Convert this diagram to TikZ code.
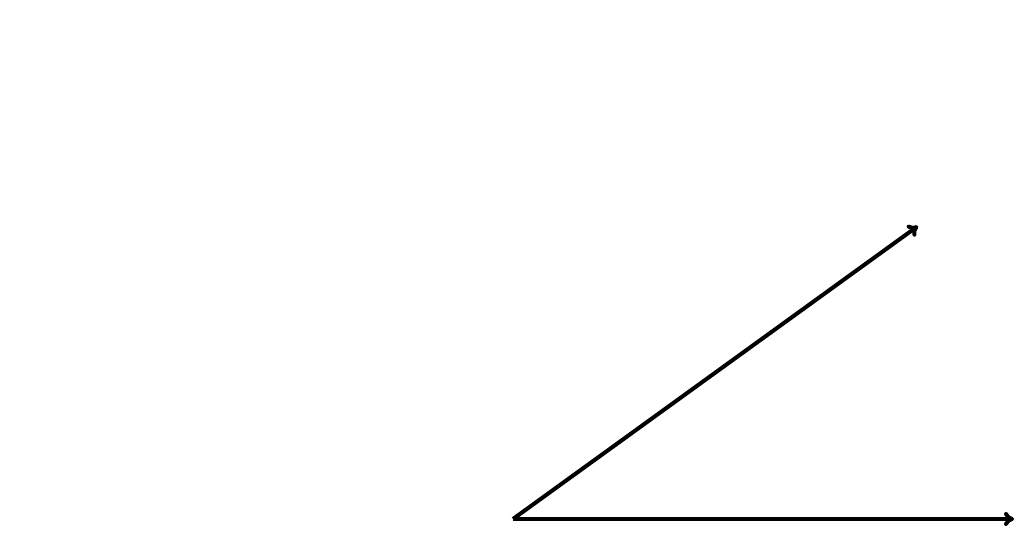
\documentclass[tikz,border=0pt]{standalone}
\usetikzlibrary{arrows.meta}
\begin{document}
\begin{tikzpicture}[x=0.5pt,y=0.5pt,
  vec/.style={line width=2pt,-{To[length=5pt,width=7pt]}}]
\useasboundingbox (0,0) rectangle (1024,533);
\coordinate (O) at (513,14);
\coordinate (A) at (1014,14);
\coordinate (B) at (918,307);
\draw[vec] (O) -- (A);
\draw[vec] (O) -- (B);
\end{tikzpicture}
\end{document}
